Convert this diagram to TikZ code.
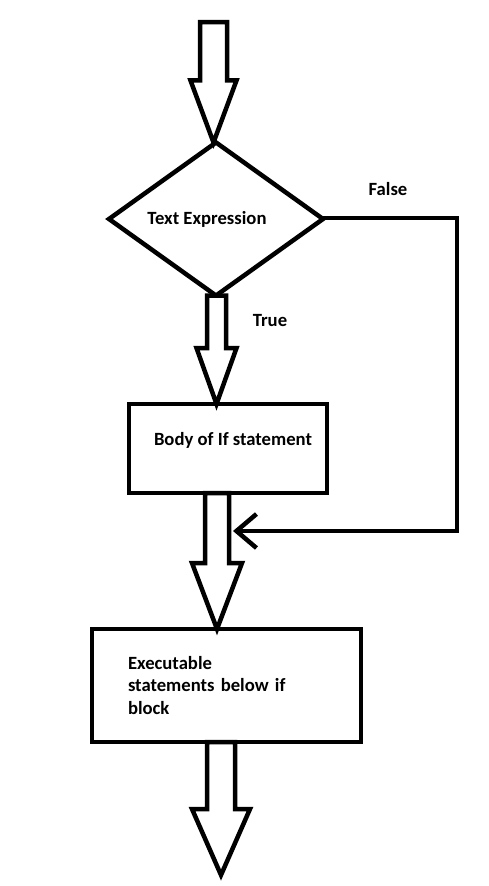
\documentclass[tikz,border=0pt]{standalone}
\usepackage{fontspec}
\setmainfont{Carlito}
\usetikzlibrary{shapes.geometric,arrows.meta,calc}
\newcommand\fatarr[5]{% start, end, shaft half, head half, head length
  \draw[fatshape] let \p1=(#1), \p2=(#2) in
    (\x1-#3pt,\y1) -- (\x1-#3pt,\y2+#5pt) -- (\x1-#4pt,\y2+#5pt) -- (\x1,\y2)
    -- (\x1+#4pt,\y2+#5pt) -- (\x1+#3pt,\y2+#5pt) -- (\x1+#3pt,\y1) -- cycle;}
\begin{document}
\begin{tikzpicture}[x=1pt,y=-1pt,
  txt/.style={font=\fontsize{18.67}{22.8}\selectfont\bfseries},
  shapebox/.style={draw, line width=4.5pt, inner sep=0pt, outer sep=0pt, txt},
  fatshape/.style={draw, line width=4.5pt, line join=miter, fill=white},
  flowline/.style={draw, line width=4.5pt, line join=miter}]
\fill[white] (0,0) rectangle (489,886);
\useasboundingbox (0,0) rectangle (489,886);

\node[shapebox, diamond, minimum width=214pt, minimum height=148pt] (d) at (216,219) {Text Expression\hspace*{18pt}};
\node[shapebox, rectangle, minimum width=198pt, minimum height=89pt, text height=13pt, text depth=20pt] (b1) at (228,448.5) {\hspace*{10pt}Body of If statement};
\node[shapebox, rectangle, minimum width=269pt, minimum height=113pt, text width=197pt, align=left] (b2) at (226.5,685.5) {Executable\\statements below if\\block};

\coordinate (s0) at (213.5,22);
\coordinate (e0) at (222,875);
\coordinate (fr) at (457,531);
\coordinate (j) at (233,531);

\node[txt] (lf) at (388,189) {False};
\node[txt] (lt) at (270,321) {True};

\fatarr{s0}{d.north}{13.5}{23}{62}
\fatarr{$(d.south)+(0.5,0)$}{b1.north}{9.5}{20}{56}
\fatarr{$(b1.south)+(-11,0)$}{b2.north}{12}{25}{66}
\fatarr{$(b2.south)+(-5.5,0)$}{e0}{14}{29}{66}

\draw[flowline, -{Straight Barb[length=20pt,width=34pt]}] ($(d.east)+(0,-1)$) -| (fr) -- (j);
\end{tikzpicture}
\end{document}
